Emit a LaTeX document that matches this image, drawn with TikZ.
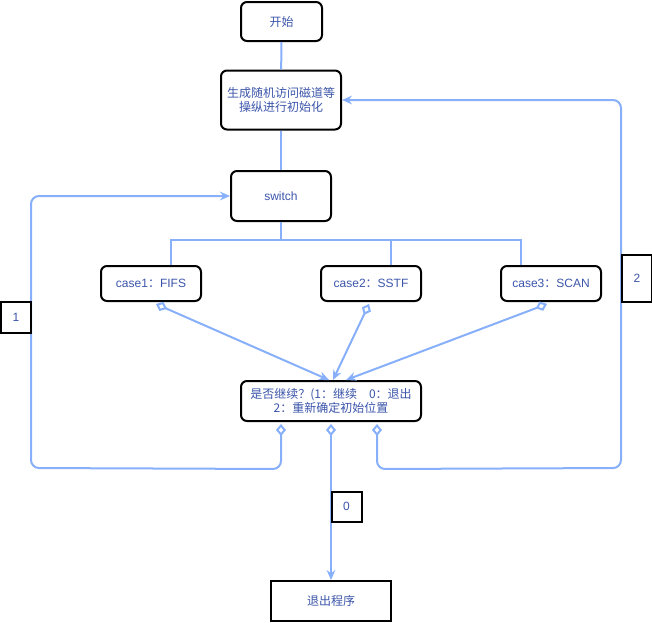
\documentclass[tikz,border=0pt]{standalone}
\usepackage{fontspec}
\setmainfont{Liberation Sans}
\newfontfamily\cjk{Noto Sans CJK SC}
\usetikzlibrary{arrows.meta,calc}
\definecolor{linec}{RGB}{135,175,250}
\definecolor{txtc}{RGB}{60,85,170}
\begin{document}
\begin{tikzpicture}[x=0.75pt,y=-0.75pt,
  every node/.style={font=\fontsize{9}{11}\selectfont, text=txtc, align=center, inner sep=1pt},
  box/.style={draw=black, line width=1.5pt, rounded corners=4.5pt, fill=white},
  sqbox/.style={draw=black, line width=1.5pt, fill=white},
  lbl/.style={draw=black, line width=1.5pt, fill=white, inner sep=0pt},
  conn/.style={draw=linec, line width=1.5pt},
  darr/.style={conn, {Diamond[open,length=9pt,width=7.5pt,fill=white]}-{Stealth[length=7.5pt,width=6.5pt,inset=2.5pt]}}
]
\useasboundingbox (0,0) rectangle (652,622);

% nodes
\node[box, minimum width=60.75pt, minimum height=29.25pt] (start) at (281.5,21.5) {\cjk 开始};
\node[box, minimum width=90pt, minimum height=44.25pt] (init) at (281,100) {\cjk 生成随机访问磁道等\\\cjk 操纵进行初始化};
\node[box, minimum width=75pt, minimum height=37.5pt] (sw) at (281,196) {switch};
\node[box, minimum width=75pt, minimum height=26.25pt] (c1) at (151,283.5) {case1{\cjk ：}FIFS};
\node[box, minimum width=75pt, minimum height=26.25pt] (c2) at (371,283.5) {case2{\cjk ：}SSTF};
\node[box, minimum width=75pt, minimum height=26.25pt] (c3) at (551,283.5) {case3{\cjk ：}SCAN};
\node[box, minimum width=135pt, minimum height=30pt] (dec) at (331,401) {\cjk 是否继续？(1：继续\hspace{9pt}0：退出\hspace{8pt}\\\cjk 2：重新确定初始位置};
\node[sqbox, minimum width=90pt, minimum height=30pt] (exit) at (331,601) {\cjk 退出程序};

% connectors
\coordinate (bus) at (281,240);
\draw[conn] (start) -- (init);
\draw[conn] (init) -- (sw);
\draw[conn] (sw.south) -- (bus) -| ($(c1.north)+(20,0)$);
\draw[conn] (bus) -| ($(c3.north)+(-30,0)$);
\draw[conn] ($(c2.north)+(20,-26)$) -- ($(c2.north)+(20,0)$);

\draw[darr] ($(c1.south)+(5,2)$) -- ($(dec.north)+(-2,0)$);
\draw[darr] ($(c2.south)+(-2,2)$) -- ($(dec.north)+(2,0)$);
\draw[darr] ($(c3.south)+(-4,2)$) -- ($(dec.north)+(15,0)$);

\draw[darr, rounded corners=6pt] ($(dec.south)+(-50,2)$) -- ++(0,45) -- (31,468) -- (31,196) -- (sw.west);
\draw[darr, rounded corners=6pt] ($(dec.south)+(46,2)$) -- ++(0,45) -- (621,468) -- (621,100) -- (init.east);
\draw[darr] ($(dec.south)+(0,2)$) -- (exit.north);

% labels
\node[lbl, minimum width=22.5pt, minimum height=23.25pt] (l1) at (16,317.5) {1};
\node[lbl, minimum width=22.5pt, minimum height=35.25pt] (l2) at (637,278) {2};
\node[lbl, minimum width=22.5pt, minimum height=22.5pt] (l0) at (346.5,506.5) {0};
\end{tikzpicture}
\end{document}
